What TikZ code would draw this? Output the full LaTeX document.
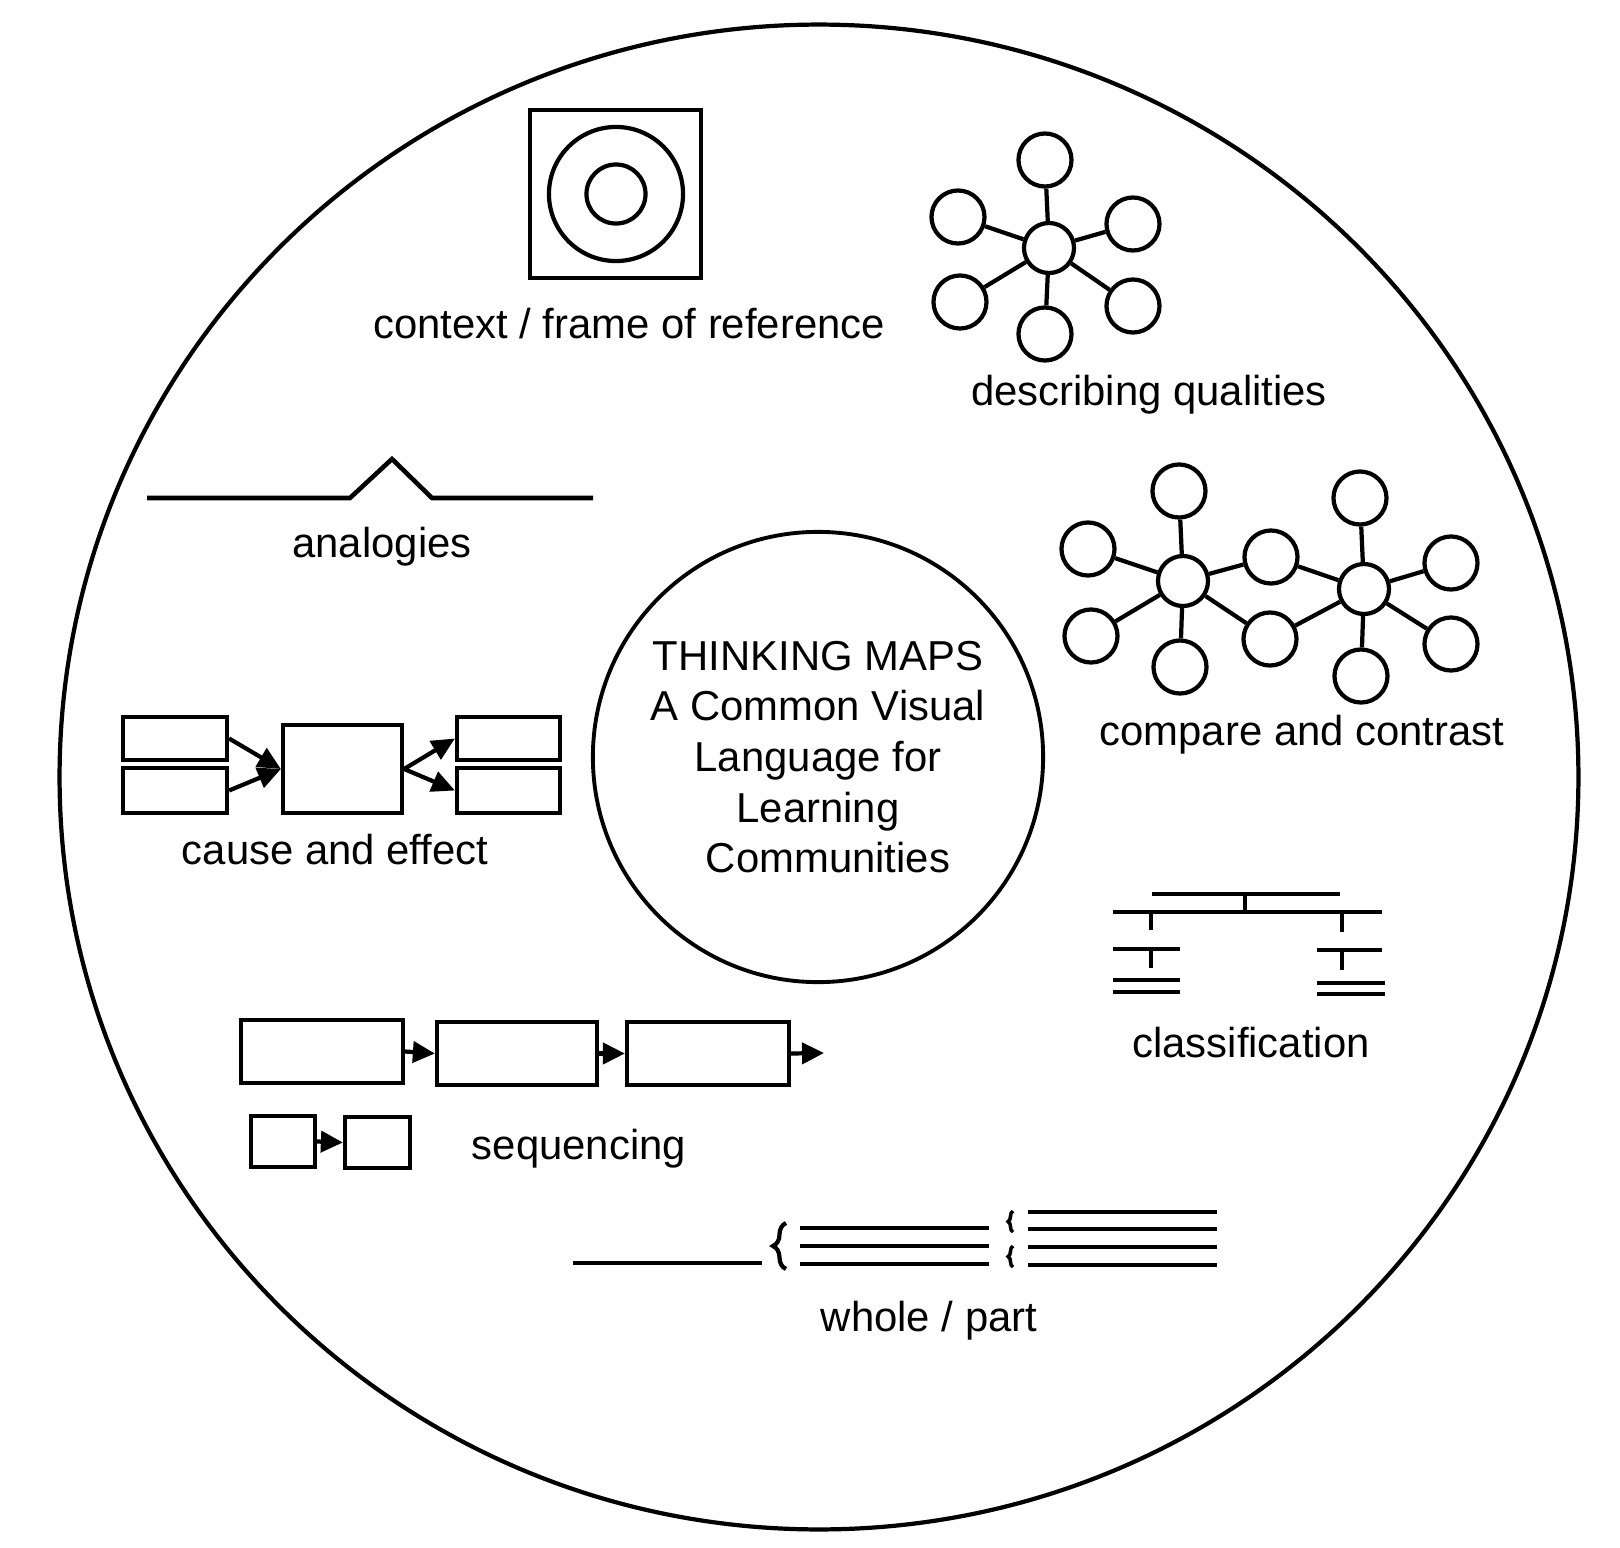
\documentclass[tikz,border=0pt]{standalone}
\usepackage{fontspec}
\setmainfont{Liberation Sans}
\usetikzlibrary{fit,arrows.meta,decorations.pathreplacing}
\begin{document}
\begin{tikzpicture}[x=0.01cm,y=-0.01cm, line width=1.2pt,
  lbl/.style={anchor=base, font=\fontsize{11.9}{14.4}\selectfont, inner sep=0},
  bub/.style={circle, draw, minimum size=5.3mm, inner sep=0},
  hub/.style={circle, draw, minimum size=5mm, inner sep=0},
  pbox/.style={draw, inner sep=0, line width=1.2pt},
  tip/.style={-{Triangle[length=2.2mm,width=2.1mm]}},
  bigtip/.style={-{Triangle[length=2.3mm,width=2.1mm]}},
  bar/.style={line width=1.3pt},
  wbrace/.style={decorate, line width=1.2pt},
  ]
\useasboundingbox (0,0) rectangle (1620,1548);
\fill[white] (0,0) rectangle (1620,1548);

% outer circle
\draw[line width=1.2pt] (819,777) ellipse [x radius=7.59cm, y radius=7.52cm];

% centre
\node[circle, draw, line width=1.1pt, minimum size=45mm, inner sep=0, align=center,
      font=\fontsize{11.9}{14.4}\selectfont] (tm) at (818,757)
  {THINKING MAPS\\A Common Visual\\Language for\\Learning\hspace*{4mm}\\\hspace*{2mm}Communities};

% context / frame of reference
\node[pbox, fit={(530,110) (701,278)}] (frame) {};
\node[circle, draw, minimum size=13.4mm, inner sep=0] (ctxo) at (616,194) {};
\node[circle, draw, minimum size=5.9mm, inner sep=0] (ctxi) at (616,194) {};
\node[lbl] (lctx) at (629,338) {context / frame of reference};

% describing qualities
\node[hub] (dq) at (1049,248) {};
\node[bub] (dq1) at (1045,160) {};
\node[bub] (dq2) at (958,217) {};
\node[bub] (dq3) at (1133,224) {};
\node[bub] (dq4) at (960,302) {};
\node[bub] (dq5) at (1045,334) {};
\node[bub] (dq6) at (1133,306) {};
\foreach \n in {1,...,6} \draw (dq) -- (dq\n);
\node[lbl] (ldq) at (1149,405) {describing qualities};

% analogies
\draw[line width=1.3pt] (147,498) -- (350,498) -- (392,459) -- (432,498) -- (593,498);
\node[lbl] (lan) at (382,557) {analogies};

% compare and contrast
\node[hub] (cl) at (1183,581) {};
\node[hub] (cr) at (1364,589) {};
\node[bub] (l1) at (1179,491) {};
\node[bub] (l2) at (1088,549) {};
\node[bub] (l3) at (1091,636) {};
\node[bub] (l4) at (1180,667) {};
\node[bub] (m1) at (1271,557) {};
\node[bub] (m2) at (1270,639) {};
\node[bub] (r1) at (1360,498) {};
\node[bub] (r2) at (1451,563) {};
\node[bub] (r3) at (1451,644) {};
\node[bub] (r4) at (1361,676) {};
\foreach \n in {l1,l2,l3,l4,m1,m2} \draw (cl) -- (\n);
\foreach \n in {r1,r2,r3,r4,m1,m2} \draw (cr) -- (\n);
\node[lbl] (lcc) at (1302,745) {compare and contrast};

% cause and effect
\node[pbox, fit={(123,717) (227,760)}] (lu) {};
\node[pbox, fit={(123,768) (227,813)}] (ll) {};
\node[pbox, fit={(283,725) (402,813)}] (mid) {};
\node[pbox, fit={(457,717) (560,760)}] (ru) {};
\node[pbox, fit={(457,768) (560,813)}] (rl) {};
\draw[bigtip] (lu.east) -- (mid.west);
\draw[bigtip] (ll.east) -- (mid.west);
\draw[bigtip] (mid.east) -- (ru.west);
\draw[bigtip] (mid.east) -- (rl.west);
\node[lbl] (lce) at (335,864) {cause and effect};

% sequencing
\node[pbox, fit={(241,1020) (403,1083)}] (b1) {};
\node[pbox, fit={(437,1022) (597,1085)}] (b2) {};
\node[pbox, fit={(627,1022) (789,1085)}] (b3) {};
\coordinate (bend) at (824,1053);
\node[pbox, fit={(251,1116) (315,1167)}] (b4) {};
\node[pbox, fit={(345,1117) (410,1168)}] (b5) {};
\draw[tip] (b1.east) -- (b2.west);
\draw[tip] (b2.east) -- (b3.west);
\draw[tip] (b3.east) -- (bend);
\draw[tip] (b4.east) -- (b5.west);
\node[lbl] (lsq) at (579,1159) {sequencing};

% classification
\draw[bar] (1152,894) -- (1340,894);
\draw[bar] (1245,894) -- (1245,912);
\draw[bar] (1113,912) -- (1382,912);
\draw[bar] (1151,912) -- (1151,930);
\draw[bar] (1342,912) -- (1342,932);
\draw[bar] (1113,949) -- (1180,949);
\draw[bar] (1151,949) -- (1151,968);
\draw[bar] (1113,980) -- (1180,980);
\draw[bar] (1113,992) -- (1180,992);
\draw[bar] (1317,950) -- (1382,950);
\draw[bar] (1342,950) -- (1342,970);
\draw[bar] (1317,983) -- (1385,983);
\draw[bar] (1317,994) -- (1385,994);
\node[lbl] (lcl) at (1251,1057) {classification};

% whole / part
\draw[bar] (573,1263) -- (762,1263);
\draw[wbrace, decoration={brace, amplitude=1.3mm}] (786,1269) -- (786,1223);
\draw[bar] (800,1228) -- (989,1228);
\draw[bar] (800,1246) -- (989,1246);
\draw[bar] (800,1264) -- (989,1264);
\draw[wbrace, line width=1pt, decoration={brace, amplitude=0.5mm}] (1013,1232) -- (1013,1211);
\draw[wbrace, line width=1pt, decoration={brace, amplitude=0.5mm}] (1013,1267) -- (1013,1246);
\draw[bar] (1028,1212) -- (1217,1212);
\draw[bar] (1028,1229) -- (1217,1229);
\draw[bar] (1028,1247) -- (1217,1247);
\draw[bar] (1028,1265) -- (1217,1265);
\node[lbl] (lwp) at (929,1331) {whole / part};
\end{tikzpicture}
\end{document}
